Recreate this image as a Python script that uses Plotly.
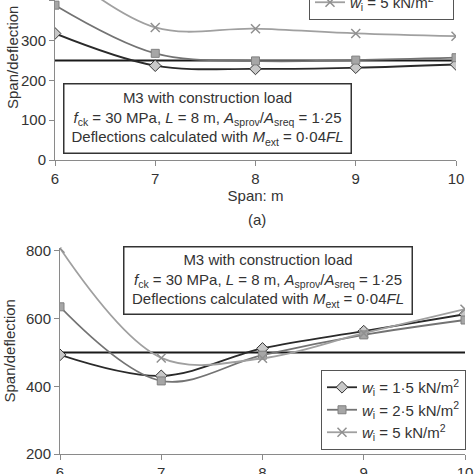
import plotly.graph_objects as go

# ---- data ----
span = [6, 7, 8, 9, 10]
limit_span = [6, 10]

top_w15 = [318, 237, 229, 232, 240]
top_w25 = [389, 268, 249, 251, 257]
top_w5 = [490, 333, 330, 318, 311]
top_limit = [250, 250]

bot_w15 = [493, 431, 512, 563, 613]
bot_w25 = [635, 416, 492, 552, 596]
bot_w5 = [808, 484, 483, 557, 628]
bot_limit = [500, 500]

series_names = [
    "<i>w</i><sub>i</sub> = 1·5 kN/m<sup>2</sup>",
    "<i>w</i><sub>i</sub> = 2·5 kN/m<sup>2</sup>",
    "<i>w</i><sub>i</sub> = 5 kN/m<sup>2</sup>",
]
top_yticks = [0, 100, 200, 300, 400]
bot_yticks = [200, 400, 600, 800]

# ---- styles ----
W = H = 474
FONT = "Liberation Sans, Arial, sans-serif"
TXT = "#333333"
AX = "#8a8a8a"

def px(x):
    return x / W

def py(y):
    return 1 - y / H

styles = [
    dict(line=dict(color="#2a2a2a", width=1.8),
         marker=dict(symbol="diamond", size=9, color="#c8c8c8",
                     line=dict(color="#333333", width=1))),
    dict(line=dict(color="#737373", width=1.8),
         marker=dict(symbol="square", size=8, color="#a6a6a6",
                     line=dict(color="#808080", width=1))),
    dict(line=dict(color="#a0a0a0", width=1.8),
         marker=dict(symbol="x-thin", size=9, color="#a0a0a0",
                     line=dict(color="#909090", width=1.5))),
]

fig = go.Figure()

top_series = [top_w15, top_w25, top_w5]
bot_series = [bot_w15, bot_w25, bot_w5]

# reference limit lines
fig.add_trace(go.Scatter(x=limit_span, y=top_limit, mode="lines",
                         line=dict(color="#1a1a1a", width=2),
                         showlegend=False, xaxis="x", yaxis="y", hoverinfo="skip"))
fig.add_trace(go.Scatter(x=limit_span, y=bot_limit, mode="lines",
                         line=dict(color="#1a1a1a", width=2),
                         showlegend=False, xaxis="x2", yaxis="y2", hoverinfo="skip"))

for name, vals, st in zip(series_names, top_series, styles):
    fig.add_trace(go.Scatter(x=span, y=vals, name=name, mode="lines+markers",
                             line=dict(shape="spline", smoothing=1, **st["line"]),
                             marker=st["marker"], xaxis="x", yaxis="y",
                             legend="legend2"))
for name, vals, st in zip(series_names, bot_series, styles):
    fig.add_trace(go.Scatter(x=span, y=vals, name=name, mode="lines+markers",
                             line=dict(shape="spline", smoothing=1, **st["line"]),
                             marker=st["marker"], xaxis="x2", yaxis="y2",
                             legend="legend"))

axis_common = dict(showline=True, linecolor=AX, linewidth=1, ticks="outside",
                   ticklen=5, tickcolor=AX, showgrid=False, zeroline=False,
                   tickfont=dict(family=FONT, size=15, color=TXT))

fig.update_layout(
    width=W, height=H,
    margin=dict(l=0, r=0, t=0, b=0, autoexpand=False),
    paper_bgcolor="white", plot_bgcolor="white",
    font=dict(family=FONT, size=14, color=TXT),
    xaxis=dict(domain=[px(55), px(456)], anchor="y", range=[6, 10],
               tickvals=span, title=dict(text="Span: m", standoff=4,
                                         font=dict(family=FONT, size=15, color=TXT)),
               **axis_common),
    yaxis=dict(domain=[py(160), 1], anchor="x", range=[0, 402],
               tickvals=top_yticks, **axis_common),
    xaxis2=dict(domain=[px(60), px(465)], anchor="y2", range=[6, 10],
                tickvals=span, **axis_common),
    yaxis2=dict(domain=[py(454), py(247.6)], anchor="x2", range=[200, 810],
                tickvals=bot_yticks,
                title=dict(text="Span/deflection", standoff=6,
                           font=dict(family=FONT, size=15, color=TXT)),
                **axis_common),
    legend=dict(x=px(466), y=py(450), xanchor="right", yanchor="bottom",
                bgcolor="white", bordercolor="#555555", borderwidth=1,
                font=dict(family=FONT, size=15, color=TXT), tracegroupgap=0),
    legend2=dict(x=px(454), y=py(20), xanchor="right", yanchor="bottom",
                 bgcolor="white", bordercolor="#555555", borderwidth=1,
                 font=dict(family=FONT, size=15, color=TXT), tracegroupgap=0),
    showlegend=True,
)

box_text = ("M3 with construction load<br>"
            "<i>f</i><sub>ck</sub> = 30 MPa, <i>L</i> = 8 m, "
            "<i>A</i><sub>sprov</sub>/<i>A</i><sub>sreq</sub> = 1·25<br>"
            "Deflections calculated with <i>M</i><sub>ext</sub> = 0·04<i>FL</i>")

fig.add_annotation(xref="paper", yref="paper", x=px(207), y=py(119),
                   xanchor="center", yanchor="middle", text=box_text,
                   showarrow=False, align="center", width=284, height=66,
                   bgcolor="white", bordercolor="#333333", borderwidth=1.5,
                   font=dict(family=FONT, size=15, color=TXT))
fig.add_annotation(xref="paper", yref="paper", x=px(267.5), y=py(280),
                   xanchor="center", yanchor="middle", text=box_text,
                   showarrow=False, align="center", width=285, height=64,
                   bgcolor="white", bordercolor="#333333", borderwidth=1.5,
                   font=dict(family=FONT, size=15, color=TXT))

fig.add_annotation(xref="paper", yref="paper", x=px(12), y=py(58),
                   text="Span/deflection", textangle=-90, showarrow=False,
                   xanchor="center", yanchor="middle",
                   font=dict(family=FONT, size=15, color=TXT))
fig.add_annotation(xref="paper", yref="paper", x=px(257), y=py(219),
                   text="(a)", showarrow=False, xanchor="center", yanchor="middle",
                   font=dict(family=FONT, size=15, color=TXT))

fig.write_html("out.html")
